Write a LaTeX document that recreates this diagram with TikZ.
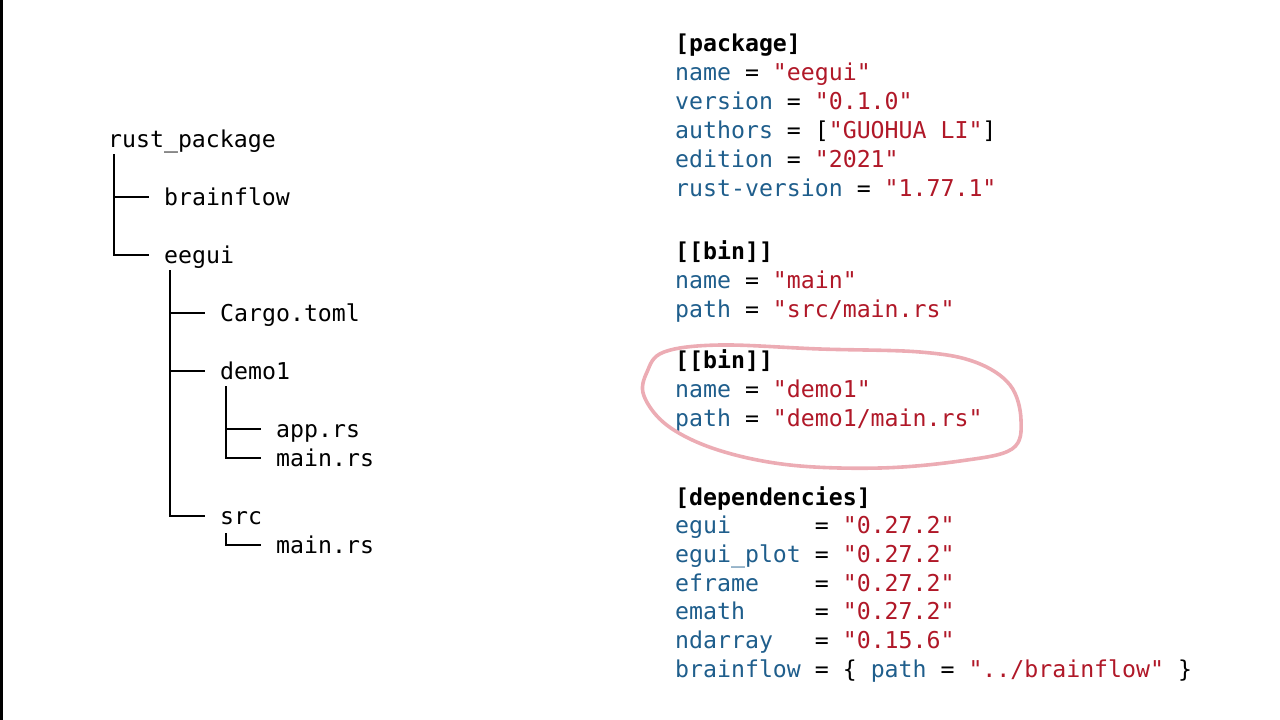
\documentclass[tikz,border=0pt]{standalone}
\usepackage{fontspec}
\setmonofont{DejaVu Sans Mono}
\usepackage{tikz}
\usetikzlibrary{positioning}

\definecolor{keyblue}{RGB}{31,94,140}
\definecolor{strred}{RGB}{176,24,40}
\definecolor{penpink}{RGB}{236,172,180}
\newcommand{\tk}[1]{\textcolor{keyblue}{#1}}
\newcommand{\ts}[1]{\textcolor{strred}{#1}}

\tikzset{
  entry/.style = {inner sep = 0pt, anchor = base west, font = \ttfamily\fontsize{23.2}{29}\selectfont},
  header/.style = {entry, font = \ttfamily\bfseries\fontsize{23.2}{29}\selectfont},
  branch/.style = {line width = 2pt},
  thinbranch/.style = {line width = 1.2pt}
}

\begin{document}
\begin{tikzpicture}[x = 1pt, y = -1pt]
\useasboundingbox (0,0) rectangle (1280,720);
\draw[line width = 2.5pt] (1.25,0) -- (1.25,720);

% folder tree
\node[entry] (root)     at (108,147) {rust\_package};
\node[entry] (brainflow) at (164,205) {brainflow};
\node[entry] (eegui)    at (164,263) {eegui};
\node[entry] (cargo)    at (220,321) {Cargo.toml};
\node[entry] (demo)     at (220,379) {demo1};
\node[entry] (app)      at (276,437) {app.rs};
\node[entry] (demomain) at (276,466) {main.rs};
\node[entry] (src)      at (220,524) {src};
\node[entry] (srcmain)  at (276,553) {main.rs};

\coordinate (rootstem)  at ([xshift = 6pt, yshift = -7pt]root.base west);
\coordinate (eeguistem) at ([xshift = 6pt, yshift = -7pt]eegui.base west);
\coordinate (demostem)  at ([xshift = 6pt, yshift = -7pt]demo.base west);
\coordinate (srcstem)   at ([xshift = 6pt, yshift = -9pt]src.base west);
\foreach \n in {brainflow, eegui, cargo, demo, app, demomain, src, srcmain}
  \coordinate (\n-tip) at ([xshift = -15pt, yshift = 8pt]\n.base west);

\begin{scope}[branch]
\draw (rootstem) |- (eegui-tip);
\draw (rootstem |- brainflow-tip) -- (brainflow-tip);
\draw (eeguistem) |- (src-tip);
\draw (eeguistem |- cargo-tip) -- (cargo-tip);
\draw (eeguistem |- demo-tip) -- (demo-tip);
\draw (demostem) |- (demomain-tip);
\draw (demostem |- app-tip) -- (app-tip);
\end{scope}
\draw[thinbranch] (srcstem) |- (srcmain-tip);

% Cargo.toml
\node[header] (pkg)     at (675,51)  {[package]};
\node[entry]  (pkgname) at (675,80)  {\tk{name} = \ts{"eegui"}};
\node[entry]  (pkgver)  at (675,109) {\tk{version} = \ts{"0.1.0"}};
\node[entry]  (pkgauth) at (675,138) {\tk{authors} = [\ts{"GUOHUA LI"}]};
\node[entry]  (pkged)   at (675,167) {\tk{edition} = \ts{"2021"}};
\node[entry]  (pkgrust) at (675,196) {\tk{rust-version} = \ts{"1.77.1"}};

\node[header] (binone)     at (675,259) {[[bin]]};
\node[entry]  (binonename) at (675,288) {\tk{name} = \ts{"main"}};
\node[entry]  (binonepath) at (675,317) {\tk{path} = \ts{"src/main.rs"}};

\node[header] (bintwo)     at (675,368) {[[bin]]};
\node[entry]  (bintwoname) at (675,397) {\tk{name} = \ts{"demo1"}};
\node[entry]  (bintwopath) at (675,426) {\tk{path} = \ts{"demo1/main.rs"}};

\node[header] (deps)      at (675,505)   {[dependencies]};
\node[entry]  (depegui)   at (675,533.7) {\tk{egui}\ \ \ \ \ \ = \ts{"0.27.2"}};
\node[entry]  (depplot)   at (675,562.4) {\tk{egui\_plot} = \ts{"0.27.2"}};
\node[entry]  (depframe)  at (675,591.1) {\tk{eframe}\ \ \ \ = \ts{"0.27.2"}};
\node[entry]  (depmath)   at (675,619.8) {\tk{emath}\ \ \ \ \ = \ts{"0.27.2"}};
\node[entry]  (depnd)     at (675,648.5) {\tk{ndarray}\ \ \ = \ts{"0.15.6"}};
\node[entry]  (depbrain)  at (675,677.2) {\tk{brainflow} = \{ \tk{path} = \ts{"../brainflow"} \}};

% hand drawn loop round the second bin
\draw[penpink, line width = 3.6pt, line join = round]
  plot[smooth cycle, tension = 0.6] coordinates {
    (647,372) (664,352) (720,345) (820,349) (920,352) (975,362) (1010,385)
    (1021,420) (1012,449) (960,461) (880,468) (790,465) (718,450) (668,426) (644,396)};
\end{tikzpicture}
\end{document}
